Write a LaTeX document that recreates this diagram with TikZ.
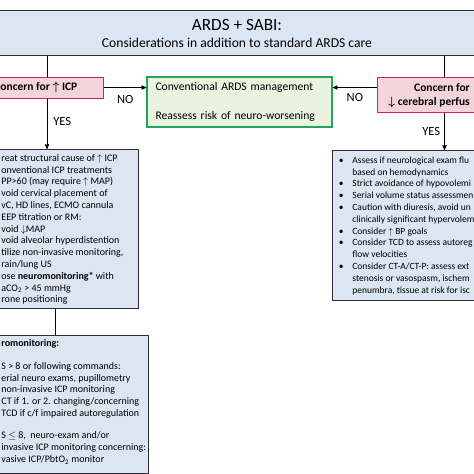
\documentclass[tikz,border=0pt]{standalone}
\usepackage{fontspec}
\setmainfont{Carlito}
\usepackage{xcolor}
\definecolor{colorInfo}{RGB}{220,230,242}
\definecolor{colorInfoLine}{RGB}{45,45,50}
\definecolor{colorConcern}{RGB}{244,212,220}
\definecolor{colorConcernLine}{RGB}{208,40,70}
\definecolor{colorArds}{RGB}{233,243,224}
\definecolor{colorArdsLine}{RGB}{35,165,85}
\usepackage{tikz}
\usetikzlibrary{arrows, positioning}
\tikzset{
  infobox/.style={rectangle, draw=colorInfoLine, fill=colorInfo, line width=1.1pt},
  concernbox/.style={rectangle, draw=colorConcernLine, fill=colorConcern, line width=1.3pt},
  ardsbox/.style={rectangle, draw=colorArdsLine, fill=colorArds, line width=1.6pt},
  bodytext/.style={font=\fontsize{10}{11.8}\selectfont, align=left, inner sep=0pt, anchor=north west},
  concerntext/.style={font=\fontsize{11.5}{13.5}\selectfont\bfseries\boldmath, inner sep=0pt},
  answer/.style={font=\fontsize{12.5}{14}\selectfont, inner sep=0pt}
}

\begin{document}
\begin{tikzpicture}[>=stealth', thick, x=1pt, y=-1pt]
\useasboundingbox (0,0) rectangle (474,474);
\clip (0,0) rectangle (474,474);
\coordinate (icpstem) at (47,0);
\coordinate (cppstem) at (444.5,0);
\coordinate (monstem) at (55,0);
% title
\node[infobox, anchor=north west, minimum width=500pt, minimum height=45pt] (title) at (-13,10) {};
\node[font=\fontsize{17.2}{19}\selectfont] (titlemain) at (237,24.5) {ARDS + SABI:};
\node[font=\fontsize{13.6}{15}\selectfont] (titlesub) at (237,43) {Considerations in addition to standard ARDS care};
% decisions
\node[concernbox, anchor=north west, minimum width=123pt, minimum height=21pt] (icp) at (-20,77) {};
\node[concerntext, anchor=west] (icplabel) at (0,87.5) {oncern for \(\uparrow\) ICP};
\node[ardsbox, minimum width=185pt, minimum height=50pt, text width=168pt, align=left, font=\fontsize{11.6}{13.5}\selectfont] (ards) at (239.5,102) {Conventional ARDS management\\[15.5pt]Reassess risk of neuro-worsening};
\node[concernbox, anchor=north west, minimum width=120pt, minimum height=35pt] (cpp) at (377,77) {};
\node[concerntext] (cpplabel) at (442,87.5) {Concern for};
\node[concerntext, anchor=west] (cpplabel2) at (388,102) {\(\downarrow\) cerebral perfus};
% action boxes
\node[infobox, anchor=north west, minimum width=158pt, minimum height=159pt] (icpbox) at (-20,149) {};
\node[bodytext] (icptext) at (1,154) {reat structural cause of \(\uparrow\) ICP\\
onventional ICP treatments\\
PP>60 (may require \(\uparrow\) MAP)\\
void cervical placement of\\
vC, HD lines, ECMO cannula\\
EEP titration or RM:\\
void \(\downarrow\)MAP\\
void alveolar hyperdistention\\
tilize non-invasive monitoring,\\
rain/lung US\\
ose \textbf{neuromonitoring*} with\\
aCO\textsubscript{2} > 45 mmHg\\
rone positioning};
\node[infobox, anchor=north west, minimum width=168pt, minimum height=138pt] (monbox) at (-20,335) {};
\node[bodytext] (montext) at (1,339.3) {\textbf{romonitoring:}\\[10.7pt]
S > 8 or following commands:\\
erial neuro exams, pupillometry\\
non-invasive ICP monitoring\\
CT if 1. or 2. changing/concerning\\
TCD if c/f impaired autoregulation\\[10.7pt]
S \(\leq\) 8,\ \ neuro-exam and/or\\
invasive ICP monitoring concerning:\\
vasive ICP/PbtO\textsubscript{2} monitor};
\node[infobox, anchor=north west, minimum width=160pt, minimum height=150pt] (perfbox) at (332,150) {};
\node[bodytext, font=\fontsize{9.5}{11.8}\selectfont] (perftext) at (338.5,154.7) {\begin{tabular}{@{}p{13.5pt}@{}l@{}}
\textbullet & Assess if neurological exam flu\\
 & based on hemodynamics\\
\textbullet & Strict avoidance of hypovolemi\\
\textbullet & Serial volume status assessmen\\
\textbullet & Caution with diuresis, avoid un\\
 & clinically significant hypervolem\\
\textbullet & Consider \(\uparrow\) BP goals\\
\textbullet & Consider TCD to assess autoreg\\
 & flow velocities\\
\textbullet & Consider CT-A/CT-P: assess ext\\
 & stenosis or vasospasm, ischem\\
 & penumbra, tissue at risk for isc
\end{tabular}};
% connectors
\draw (title.south -| icpstem) -- (icp.north -| icpstem);
\draw (title.south -| cppstem) -- (cpp.north -| cppstem);
\draw[->] (icp.east |- icplabel) -- node[answer, below=7pt] (icpno) {NO} (ards.west |- icplabel);
\draw[->] (cpp.west |- icplabel) -- node[answer, below=5pt] (cppno) {NO} (ards.east |- icplabel);
\draw[->] (icp.south -| icpstem) -- node[answer, right=6pt, pos=0.45] (icpyes) {YES} (icpbox.north -| icpstem);
\draw[->] (cpp.south -| cppstem) -- node[answer, left=4pt] (cppyes) {YES} (perfbox.north -| cppstem);
\draw (icpbox.south -| monstem) -- (monbox.north -| monstem);
\end{tikzpicture}
\end{document}
